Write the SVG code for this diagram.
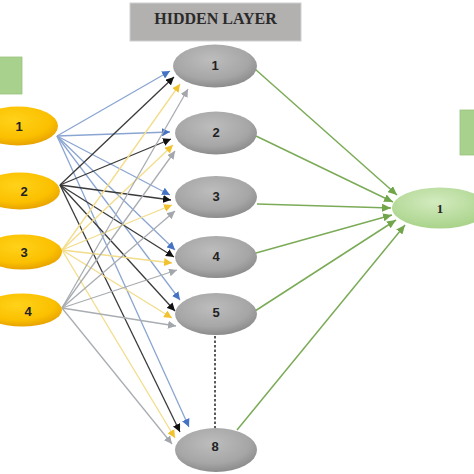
<svg xmlns="http://www.w3.org/2000/svg" width="474" height="474" viewBox="0 0 474 474">
<defs>
<radialGradient id="gy" cx="45%" cy="35%" r="65%"><stop offset="0" stop-color="#ffd21a"/><stop offset="0.7" stop-color="#fbc000"/><stop offset="1" stop-color="#e8a300"/></radialGradient>
<radialGradient id="gg" cx="45%" cy="35%" r="65%"><stop offset="0" stop-color="#bdbdbd"/><stop offset="0.7" stop-color="#a6a6a6"/><stop offset="1" stop-color="#8c8c8c"/></radialGradient>
<radialGradient id="gn" cx="45%" cy="35%" r="65%"><stop offset="0" stop-color="#d3ebbf"/><stop offset="1" stop-color="#a9d38a"/></radialGradient>
<marker id="mb" markerUnits="userSpaceOnUse" markerWidth="9" markerHeight="8" refX="8" refY="4" orient="auto"><path d="M0,0 L8,4 L0,8 z" fill="#4472c4"/></marker>
<marker id="mk" markerUnits="userSpaceOnUse" markerWidth="9" markerHeight="8" refX="8" refY="4" orient="auto"><path d="M0,0 L8,4 L0,8 z" fill="#111"/></marker>
<marker id="my" markerUnits="userSpaceOnUse" markerWidth="9" markerHeight="8" refX="8" refY="4" orient="auto"><path d="M0,0 L8,4 L0,8 z" fill="#f2c12e"/></marker>
<marker id="mg" markerUnits="userSpaceOnUse" markerWidth="9" markerHeight="8" refX="8" refY="4" orient="auto"><path d="M0,0 L8,4 L0,8 z" fill="#a3a6aa"/></marker>
<marker id="mn" markerUnits="userSpaceOnUse" markerWidth="10" markerHeight="8" refX="9" refY="4" orient="auto"><path d="M0,0 L9,4 L0,8 z" fill="#70a54a"/></marker>
</defs>
<style>
.b{stroke:#8aa5d2;stroke-width:1.3;fill:none;marker-end:url(#mb)}
.k{stroke:#3a3a3a;stroke-width:1.3;fill:none;marker-end:url(#mk)}
.y{stroke:#f3dc8a;stroke-width:1.3;fill:none;marker-end:url(#my)}
.g{stroke:#a9adb2;stroke-width:1.3;fill:none;marker-end:url(#mg)}
.n{stroke:#7bab57;stroke-width:1.5;fill:none;marker-end:url(#mn)}
.inp{fill:url(#gy)}
.hid{fill:url(#gg)}
.lbl{font-family:"Liberation Sans","DejaVu Sans",sans-serif;font-weight:bold;font-size:13px;fill:#222;text-anchor:middle;dominant-baseline:central}
.box{fill:#a9d18e;stroke:#9cc47f;stroke-width:0.8}
</style>
<rect width="474" height="474" fill="#ffffff"/>

<g id="title">
<rect x="130" y="3" width="171" height="38" fill="#b3b0b0" stroke="#cfcfcf" stroke-width="1"/>
<text x="215.5" y="18" font-family="Liberation Serif,serif" font-weight="bold" font-size="16" fill="#2a2a2a" text-anchor="middle" dominant-baseline="central">HIDDEN LAYER</text>
</g>

<g id="input-box"><rect class="box" x="-2" y="57" width="24" height="37"/></g>
<g id="output-box"><rect class="box" x="460" y="110" width="20" height="45"/></g>

<g id="connectors">
<line class="b" x1="57" y1="136" x2="170" y2="71"/>
<line class="b" x1="57" y1="136" x2="170" y2="132"/>
<line class="b" x1="57" y1="136" x2="170" y2="195"/>
<line class="b" x1="57" y1="136" x2="175" y2="250"/>
<line class="b" x1="57" y1="136" x2="180" y2="300"/>
<line class="b" x1="57" y1="136" x2="189" y2="427"/>
<line class="k" x1="60" y1="185" x2="174" y2="77"/>
<line class="k" x1="60" y1="185" x2="171" y2="139"/>
<line class="k" x1="60" y1="185" x2="171" y2="200"/>
<line class="k" x1="60" y1="185" x2="174" y2="257"/>
<line class="k" x1="60" y1="185" x2="175" y2="311"/>
<line class="k" x1="60" y1="185" x2="180" y2="432"/>
<line class="y" x1="62" y1="250" x2="180" y2="84"/>
<line class="y" x1="62" y1="250" x2="173" y2="145"/>
<line class="y" x1="62" y1="250" x2="172" y2="205"/>
<line class="y" x1="62" y1="250" x2="172" y2="263"/>
<line class="y" x1="62" y1="250" x2="172" y2="318"/>
<line class="y" x1="62" y1="250" x2="175" y2="438"/>
<line class="g" x1="62" y1="308" x2="188" y2="89"/>
<line class="g" x1="62" y1="308" x2="175" y2="151"/>
<line class="g" x1="62" y1="308" x2="175" y2="211"/>
<line class="g" x1="62" y1="308" x2="177" y2="270"/>
<line class="g" x1="62" y1="308" x2="176" y2="326"/>
<line class="g" x1="62" y1="308" x2="172" y2="444"/>
<line class="n" x1="255" y1="69" x2="397" y2="195"/>
<line class="n" x1="256" y1="136" x2="393" y2="202"/>
<line class="n" x1="257" y1="204" x2="391" y2="208"/>
<line class="n" x1="256" y1="253" x2="392" y2="215"/>
<line class="n" x1="255" y1="311" x2="396" y2="220"/>
<line class="n" x1="237" y1="430" x2="405" y2="225"/>
<line x1="215" y1="336" x2="215" y2="428" stroke="#333" stroke-width="1.6" stroke-dasharray="2.5 2"/>
</g>

<g id="in1"><ellipse class="inp" cx="18" cy="126" rx="40" ry="19.5"/><text class="lbl" x="19" y="126">1</text></g>
<g id="in2"><ellipse class="inp" cx="20" cy="191" rx="40" ry="18.5"/><text class="lbl" x="24" y="191">2</text></g>
<g id="in3"><ellipse class="inp" cx="22" cy="252" rx="40" ry="17.5"/><text class="lbl" x="24" y="252">3</text></g>
<g id="in4"><ellipse class="inp" cx="22" cy="310" rx="40" ry="16.5"/><text class="lbl" x="28" y="311">4</text></g>

<g id="h1"><ellipse class="hid" cx="215" cy="66" rx="42" ry="21.5"/><text class="lbl" x="215" y="65">1</text></g>
<g id="h2"><ellipse class="hid" cx="216" cy="133" rx="41" ry="21.5"/><text class="lbl" x="216" y="132">2</text></g>
<g id="h3"><ellipse class="hid" cx="216" cy="197" rx="41" ry="21"/><text class="lbl" x="216" y="196">3</text></g>
<g id="h4"><ellipse class="hid" cx="216" cy="257" rx="41" ry="21"/><text class="lbl" x="216" y="256">4</text></g>
<g id="h5"><ellipse class="hid" cx="216" cy="314" rx="41" ry="21"/><text class="lbl" x="216" y="312">5</text></g>
<g id="h8"><ellipse class="hid" cx="216" cy="450" rx="41" ry="22"/><text class="lbl" x="215" y="446">8</text></g>

<g id="out1"><ellipse fill="url(#gn)" cx="440" cy="208" rx="48" ry="20.5"/><text x="440" y="208" font-family="Liberation Serif,serif" font-weight="bold" font-size="13" fill="#222" text-anchor="middle" dominant-baseline="central">1</text></g>
</svg>
